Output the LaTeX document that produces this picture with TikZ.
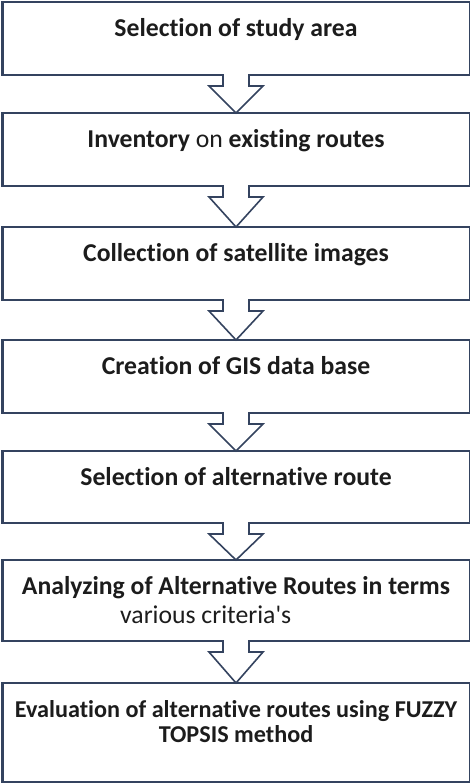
\documentclass[tikz,border=0pt]{standalone}
\usepackage{fontspec}
\setmainfont{Carlito}[Ligatures={NoCommon,TeXOff}]
\usetikzlibrary{calc}
\definecolor{edge}{HTML}{34435F}
\definecolor{ink}{HTML}{1C1C1C}
\tikzset{
  box/.style={draw=edge, line width=1.9pt, fill=white, rectangle, minimum width=467pt, outer sep=0pt, inner sep=0pt},
  lbl/.style={anchor=base, text=ink, font=\fontsize{25.7}{30}\selectfont\bfseries, inner sep=0pt},
  lbls/.style={anchor=base, text=ink, font=\fontsize{24.2}{29}\selectfont\bfseries, inner sep=0pt},
  lblr/.style={anchor=base west, text=ink, font=\fontsize{25.7}{30}\selectfont, inner sep=0pt},
  arr/.style={draw=edge, line width=1.6pt, line join=miter},
  leftedge/.style={draw=edge, line width=2.8pt},
}
\newcommand\blockarr[2]{%
  \fill[white] ($(#1.south)+(-13,-1.5)$) -- ($(#1.south)+(-13,11)$) -- ($(#1.south)+(-27,11)$) -- (#2.north)
     -- ($(#1.south)+(27,11)$) -- ($(#1.south)+(13,11)$) -- ($(#1.south)+(13,-1.5)$) -- cycle;
  \draw[arr] ($(#1.south)+(-13,-0.9)$) -- ($(#1.south)+(-13,11)$) -- ($(#1.south)+(-27,11)$) -- (#2.north)
     -- ($(#1.south)+(27,11)$) -- ($(#1.south)+(13,11)$) -- ($(#1.south)+(13,-0.9)$);
}
\begin{document}
\begin{tikzpicture}[x=1pt,y=-1pt]
\useasboundingbox (0,0) rectangle (474,784);
\node[box, minimum height=73pt] (b1) at (236,38.5) {};
\node[box, minimum height=73pt] (b2) at (236,149.5) {};
\node[box, minimum height=73pt] (b3) at (236,263.5) {};
\node[box, minimum height=73pt] (b4) at (236,376.5) {};
\node[box, minimum height=72pt] (b5) at (236,487) {};
\node[box, minimum height=81pt] (b6) at (236,600.5) {};
\node[box, minimum height=99pt] (b7) at (236,732.5) {};
\foreach \b in {b1,b2,b3,b4,b5,b6,b7}
  \draw[leftedge] ($(\b.north west)+(0.3,-0.9)$) -- ($(\b.south west)+(0.3,0.9)$);
\blockarr{b1}{b2}
\blockarr{b2}{b3}
\blockarr{b3}{b4}
\blockarr{b4}{b5}
\blockarr{b5}{b6}
\blockarr{b6}{b7}
\node[lbl] (t1) at (236,37) {Selection of study area};
\node[lbl] (t2) at (236,147) {Inventory \mdseries on \bfseries existing routes};
\node[lbl] (t3) at (236,261) {Collection of satellite images};
\node[lbl] (t4) at (236,374) {Creation of GIS data base};
\node[lbl] (t5) at (236,485) {Selection of alternative route};
\node[lbl] (t6a) at (236,594) {Analyzing of Alternative Routes in terms};
\node[lblr] (t6b) at (120,623) {various criteria's};
\node[lbls] (t7a) at (236,717) {Evaluation of alternative routes using FUZZY};
\node[lbls] (t7b) at (236,742) {TOPSIS method};
\end{tikzpicture}
\end{document}
